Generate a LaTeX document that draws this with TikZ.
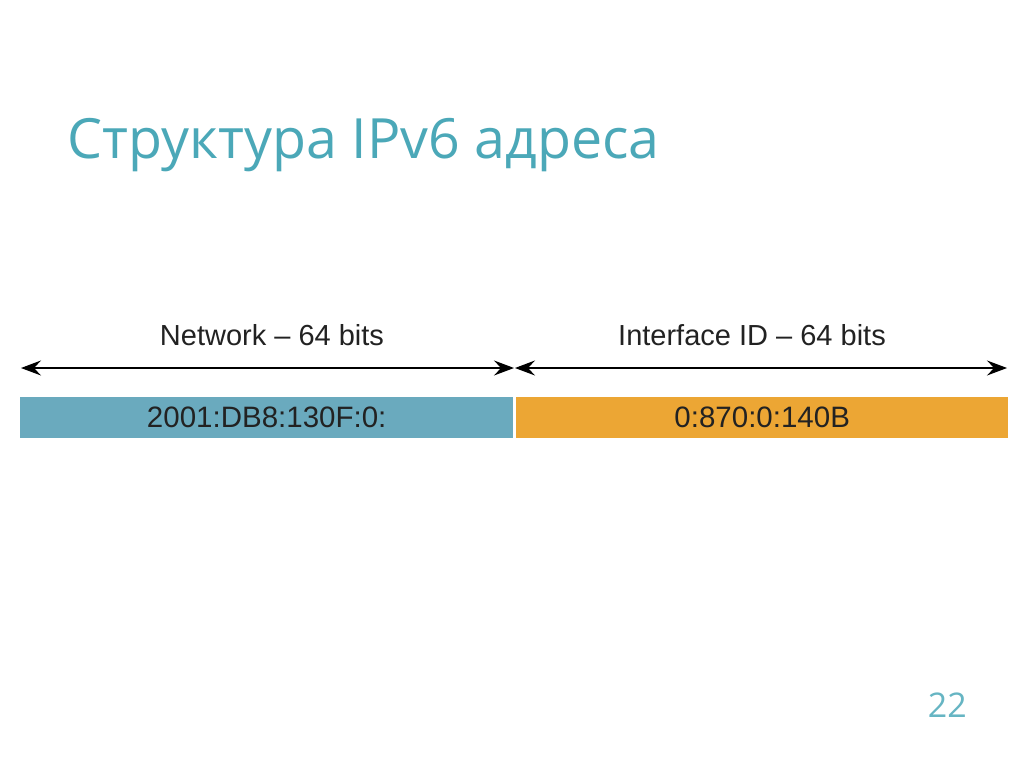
\documentclass[tikz,border=0pt]{standalone}
\usepackage{fontspec}
\setmainfont{Liberation Sans}
\newfontfamily\titlefont{Open Sans}
\usetikzlibrary{arrows.meta,positioning}
\definecolor{slideteal}{RGB}{75,168,184}
\definecolor{netblue}{RGB}{106,170,190}
\definecolor{iforange}{RGB}{236,166,52}
\definecolor{bartext}{RGB}{34,34,34}
\tikzset{
  field/.style={minimum height=41pt,inner sep=0pt,font=\fontsize{29.5}{32}\selectfont,text=bartext},
  span/.style={{Stealth[length=20pt,width=15pt,inset=7pt]}-{Stealth[length=20pt,width=15pt,inset=7pt]},line width=1.1pt},
  spanlabel/.style={font=\fontsize{29}{32}\selectfont,text=bartext,inner sep=0pt},
}
\begin{document}
\begin{tikzpicture}[x=1pt,y=-1pt]
    \useasboundingbox[fill=white] (0,0) rectangle (1024,768);
    % title
    \node[anchor=base west,inner sep=0pt,text=slideteal,font=\titlefont\fontsize{55.5}{62}\selectfont] (title) at (67,158) {Структура IPv6 адреса};
    % fields
    \node[field,fill=netblue,minimum width=493pt,anchor=north west] (netbar) at (20,397) {2001:DB8:130F:0:};
    \node[field,fill=iforange,minimum width=492pt,anchor=north west] (ifbar) at (516,397) {0:870:0:140B};
    % spans
    \coordinate (netL) at (21,368);
    \coordinate (netR) at (514,368);
    \coordinate (ifL) at (515,368);
    \coordinate (ifR) at (1007,368);
    \draw[span] (netL) -- (netR);
    \draw[span] (ifL) -- (ifR);
    \node[spanlabel,anchor=base] (netlabel) at (272,345) {Network -- 64 bits};
    \node[spanlabel,anchor=base] (iflabel) at (752,345) {Interface ID -- 64 bits};
    % page number
    \node[anchor=base east,inner sep=0pt,text=slideteal!85,font=\titlefont\fontsize{34}{38}\selectfont] (pagenum) at (967,717) {22};
\end{tikzpicture}
\end{document}
